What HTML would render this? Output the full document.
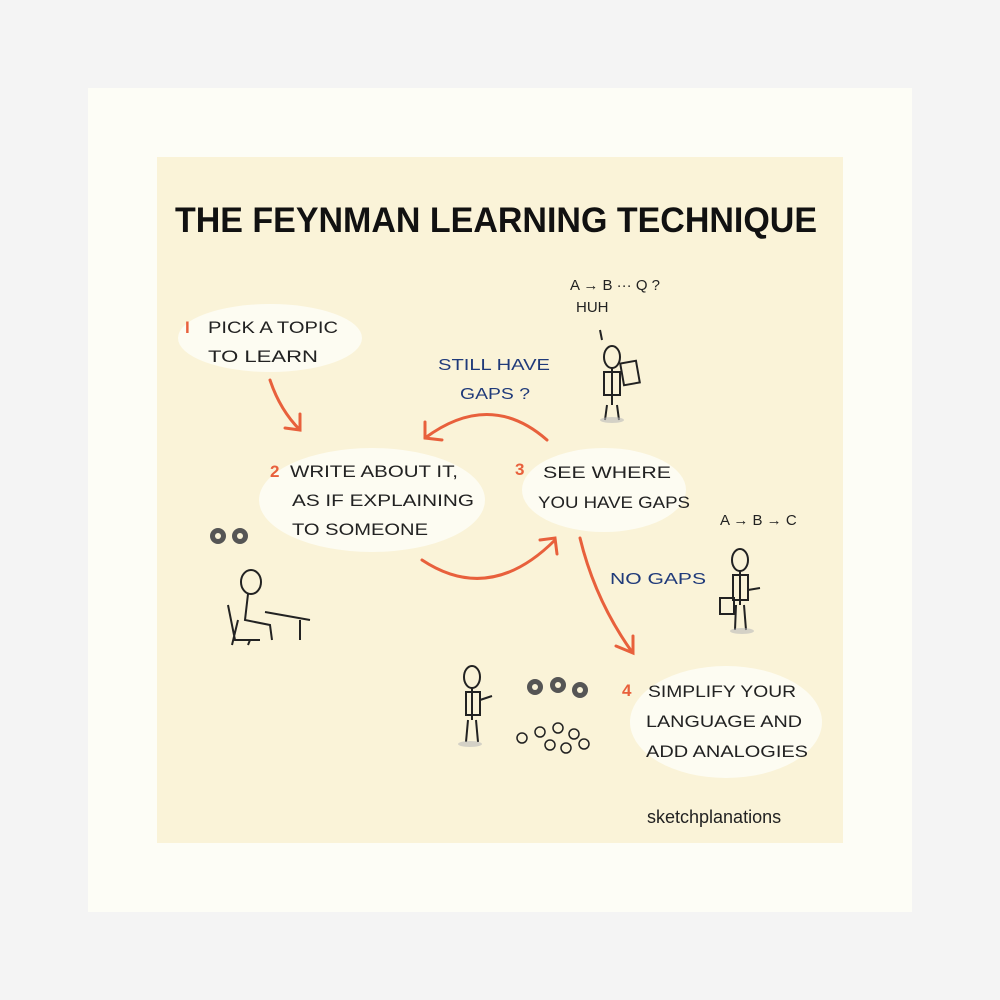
<!DOCTYPE html>
<html><head><style>
html,body{margin:0;padding:0;background:#f5f5f5;}
svg{display:block}
text{font-family:"Liberation Sans",sans-serif;}
</style></head><body>
<svg width="1000" height="1000" viewBox="0 0 1000 1000">
<rect width="1000" height="1000" fill="#f4f4f4"/>
<rect x="88" y="88" width="824" height="824" fill="#fdfdf6"/>
<rect x="157" y="157" width="686" height="686" fill="#faf3d8"/>
<text x="496" y="232" text-anchor="middle" font-size="35" font-weight="bold" fill="#111" textLength="642" lengthAdjust="spacingAndGlyphs">THE FEYNMAN LEARNING TECHNIQUE</text>
<g fill="#fdfcf2">
<ellipse cx="270" cy="338" rx="92" ry="34"/>
<ellipse cx="372" cy="500" rx="113" ry="52"/>
<ellipse cx="604" cy="490" rx="82" ry="42"/>
<ellipse cx="726" cy="722" rx="96" ry="56"/>
</g>
<g font-size="17" fill="#222">
<text x="185" y="333" fill="#e8603c" font-weight="bold">I</text>
<text x="208" y="333" textLength="130" lengthAdjust="spacingAndGlyphs">PICK A TOPIC</text>
<text x="208" y="362" textLength="110" lengthAdjust="spacingAndGlyphs">TO LEARN</text>
<text x="270" y="477" fill="#e8603c" font-weight="bold">2</text>
<text x="290" y="477" textLength="168" lengthAdjust="spacingAndGlyphs">WRITE ABOUT IT,</text>
<text x="292" y="506" textLength="182" lengthAdjust="spacingAndGlyphs">AS IF EXPLAINING</text>
<text x="292" y="535" textLength="136" lengthAdjust="spacingAndGlyphs">TO SOMEONE</text>
<text x="515" y="475" fill="#e8603c" font-weight="bold">3</text>
<text x="543" y="478" textLength="128" lengthAdjust="spacingAndGlyphs">SEE WHERE</text>
<text x="538" y="508" textLength="152" lengthAdjust="spacingAndGlyphs">YOU HAVE GAPS</text>
<text x="622" y="696" fill="#e8603c" font-weight="bold">4</text>
<text x="648" y="697" textLength="148" lengthAdjust="spacingAndGlyphs">SIMPLIFY YOUR</text>
<text x="646" y="727" textLength="156" lengthAdjust="spacingAndGlyphs">LANGUAGE AND</text>
<text x="646" y="757" textLength="162" lengthAdjust="spacingAndGlyphs">ADD ANALOGIES</text>
</g>
<g font-size="16" fill="#1f3a7a">
<text x="438" y="370" textLength="112" lengthAdjust="spacingAndGlyphs">STILL HAVE</text>
<text x="460" y="399" textLength="70" lengthAdjust="spacingAndGlyphs">GAPS ?</text>
<text x="610" y="584" textLength="96" lengthAdjust="spacingAndGlyphs">NO GAPS</text>
</g>
<g font-size="15" fill="#222">
<text x="570" y="290">A → B ··· Q ?</text>
<text x="576" y="312">HUH</text>
<text x="720" y="525">A → B → C</text>
<text x="647" y="823" font-size="18">sketchplanations</text>
</g>
<g fill="none" stroke="#e8603c" stroke-width="3" stroke-linecap="round">
<path d="M270 380 Q280 410 300 430"/><path d="M285 428 L300 430 L300 414"/>
<path d="M547 440 Q490 390 425 438"/><path d="M425 422 L425 438 L442 440"/>
<path d="M422 560 Q490 605 555 540"/><path d="M540 540 L555 538 L557 554"/>
<path d="M580 538 Q595 600 632 652"/><path d="M616 646 L633 653 L633 636"/>
</g>
<g fill="none" stroke="#222" stroke-width="2">
<ellipse cx="612" cy="357" rx="8" ry="11"/><path d="M612 368 L612 405 M604 372 L604 395 L620 395 L620 372 Z M607 405 L605 420 M617 405 L619 420 M600 330 L602 340"/>
<rect x="622" y="362" width="16" height="22" transform="rotate(-10 630 373)"/>
<ellipse cx="740" cy="560" rx="8" ry="11"/><path d="M740 571 L740 605 M733 575 L733 600 L748 600 L748 575 Z M736 605 L735 630 M744 605 L746 630 M748 590 L760 588"/>
<rect x="720" y="598" width="14" height="16"/>
<ellipse cx="472" cy="677" rx="8" ry="11"/><path d="M472 688 L472 720 M466 692 L466 715 L480 715 L480 692 Z M468 720 L466 742 M476 720 L478 742 M480 700 L492 696"/>
<ellipse cx="251" cy="582" rx="10" ry="12"/><path d="M248 594 L245 620 L270 625 L272 640 M228 605 L235 640 L260 640 M265 612 L310 620 M300 620 L300 640 M238 620 L232 645 M250 640 L248 645"/>
<g stroke-width="1.5"><circle cx="522" cy="738" r="5"/><circle cx="540" cy="732" r="5"/><circle cx="558" cy="728" r="5"/><circle cx="574" cy="734" r="5"/><circle cx="584" cy="744" r="5"/><circle cx="550" cy="745" r="5"/><circle cx="566" cy="748" r="5"/></g>
</g>
<g fill="#555">
<circle cx="218" cy="536" r="8"/><circle cx="240" cy="536" r="8"/>
<circle cx="535" cy="687" r="8"/><circle cx="558" cy="685" r="8"/><circle cx="580" cy="690" r="8"/>
</g>
<g fill="#faf3d8"><circle cx="218" cy="536" r="3"/><circle cx="240" cy="536" r="3"/><circle cx="535" cy="687" r="3"/><circle cx="558" cy="685" r="3"/><circle cx="580" cy="690" r="3"/></g>
<g fill="#bbb" opacity="0.6">
<ellipse cx="612" cy="420" rx="12" ry="3"/><ellipse cx="742" cy="631" rx="12" ry="3"/><ellipse cx="470" cy="744" rx="12" ry="3"/>
</g>
</svg>
</body></html>
